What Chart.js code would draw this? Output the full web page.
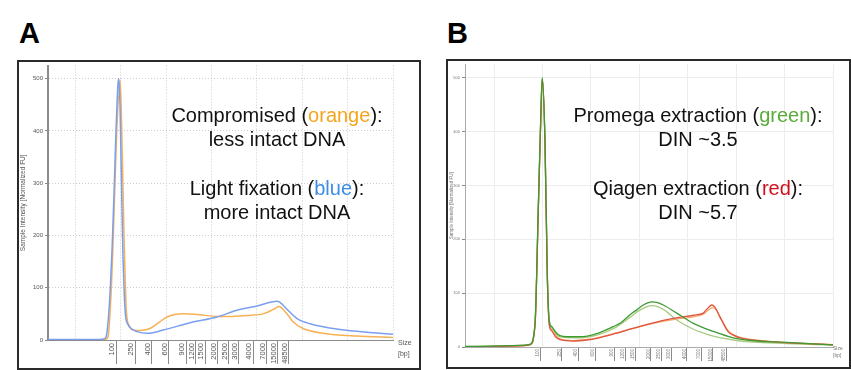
<!DOCTYPE html>
<html>
<head>
<meta charset="utf-8">
<script src="https://cdn.jsdelivr.net/npm/chart.js@4.4.1/dist/chart.umd.min.js"></script>
<style>
body { margin: 0; width: 851px; height: 370px; overflow: hidden; position: relative; background: #fff; font-family: "Liberation Sans", Arial, sans-serif; }
canvas { position: absolute; }
.box { position: absolute; border: 2px solid #2a2a2a; box-sizing: border-box; }
.tag { position: absolute; font-weight: bold; font-size: 29px; line-height: 29px; color: #000; }
.note { position: absolute; text-align: center; font-size: 20px; line-height: 24px; color: #111; white-space: nowrap; }
.unit { position: absolute; color: #555; white-space: nowrap; }
</style>
</head>
<body>
<div class="tag" style="left:19px;top:19px">A</div>
<div class="tag" style="left:447px;top:19px">B</div>

<canvas id="chartA" width="404" height="310" style="left:17px;top:60px"></canvas>
<canvas id="chartB" width="404" height="309" style="left:447px;top:60px"></canvas>
<div class="box" style="left:17px;top:60px;width:404px;height:310px"></div>
<div class="box" style="left:446px;top:59px;width:405px;height:310px"></div>

<div class="note" style="left:127px;top:103px;width:300px">Compromised (<span style="color:#f5a51c">orange</span>):<br>less intact DNA</div>
<div class="note" style="left:127px;top:176px;width:300px">Light fixation (<span style="color:#3b8de6">blue</span>):<br>more intact DNA</div>
<div class="note" style="left:548px;top:103px;width:300px">Promega extraction (<span style="color:#5aab3a">green</span>):<br>DIN ~3.5</div>
<div class="note" style="left:548px;top:176px;width:300px">Qiagen extraction (<span style="color:#d0101a">red</span>):<br>DIN ~5.7</div>

<div class="unit" style="left:398px;top:339px;font-size:7px">Size</div>
<div class="unit" style="left:398px;top:350px;font-size:7px">[bp]</div>
<div class="unit" style="left:833px;top:345px;font-size:5px;color:#777">Size</div>
<div class="unit" style="left:833px;top:352px;font-size:5px;color:#777">[bp]</div>

<script>
// migration time (s) vs fluorescence
const gridTimes = [20, 25, 30, 35, 40, 45, 50, 55];
const yTicks = [0, 100, 200, 300, 400, 500];
const bpLabels = ['100', '250', '400', '600', '900', '1200', '1500', '2000', '2500', '3000', '4000', '7000', '15000', '48500'];
const bpTimesA = [24.5, 26.6, 28.45, 30.3, 32.2, 33.3, 34.3, 35.7, 36.9, 38.0, 39.6, 41.1, 42.3, 43.5];
const bpTimesB = [24.8, 27.0, 28.7, 30.5, 32.4, 33.6, 34.6, 36.2, 37.3, 38.3, 39.9, 41.4, 42.6, 44.0];

// panel A
const lightFixation = [[17, 1], [20.5, 1], [22.7, 1], [23.28, 3], [23.5, 15], [23.83, 88], [24.05, 170], [24.27, 280],
  [24.38, 340], [24.49, 400], [24.6, 450], [24.71, 490], [24.79, 500], [24.93, 450], [25.04, 350], [25.15, 250],
  [25.26, 160], [25.37, 100], [25.48, 60], [25.59, 40], [25.81, 30], [26.03, 24], [26.8, 16], [28.01, 13],
  [29.67, 19], [32.64, 33], [35.61, 44], [37.82, 57], [40.02, 65], [42.22, 74], [42.55, 72], [43.43, 57],
  [44.43, 41], [45.86, 31], [49.16, 20], [52.8, 14], [55, 11]];
const compromised = [[17, 0.5], [22.7, 0.5], [23.28, 1], [23.61, 6], [23.83, 50], [24.05, 130], [24.27, 240],
  [24.49, 360], [24.71, 450], [24.82, 470], [24.93, 498], [25.04, 460], [25.15, 380], [25.26, 290], [25.37, 200],
  [25.48, 130], [25.59, 70], [25.7, 42], [25.92, 28], [26.36, 19], [27.13, 18], [28.23, 22], [29.34, 35],
  [30.11, 44], [31.87, 50], [33.41, 49], [35.61, 45], [37.05, 45], [38.92, 47], [40.68, 50], [41.78, 58],
  [42.44, 64], [43.32, 50], [43.99, 35], [45.09, 22], [47.29, 13], [51.03, 7.5], [55, 5]];

// panel B
const promegaA = [[17, 1], [20.61, 2], [22.68, 3], [23.71, 5], [24.23, 44], [24.57, 259], [24.85, 443], [24.98, 500],
  [25.26, 382], [25.5, 136], [25.71, 48], [25.95, 38], [26.4, 27], [26.81, 21], [27.5, 19], [28.88, 19], [30.6, 25],
  [32.31, 38], [33.01, 44], [34.04, 60], [34.73, 69], [35.5, 79], [36.28, 84], [36.8, 83], [37.48, 78], [38.86, 63],
  [40.58, 44], [42.64, 29], [44.71, 17], [46.77, 11.6], [50.22, 8.5], [55, 4]];
const promegaB = [[17, 1], [20.61, 2], [22.68, 3], [23.71, 5], [24.23, 44], [24.57, 259], [24.85, 443], [24.98, 500],
  [25.26, 382], [25.5, 134], [25.71, 44], [25.95, 36], [26.4, 25], [26.81, 19], [28.88, 17], [30.6, 22], [32.31, 34],
  [34.04, 55], [35.0, 68], [35.93, 76], [36.4, 77], [37.48, 70], [38.86, 50], [40.58, 33], [41.61, 26], [42.64, 20],
  [44.71, 13], [46.77, 9], [50.22, 6.5], [55, 3.5]];
const qiagenA = [[17, 0], [20.61, 1], [22.68, 2], [23.71, 4], [24.23, 40], [24.57, 255], [24.85, 440], [24.98, 498],
  [25.26, 380], [25.5, 130], [25.71, 40], [25.95, 30], [26.4, 18], [26.81, 13.5], [28.18, 11], [29.57, 13], [30.6, 16],
  [32.31, 24], [33.01, 27], [34.04, 33], [36.44, 45], [38.51, 53], [40.58, 59], [41.61, 63], [41.96, 70], [42.48, 78],
  [42.8, 74], [43.33, 56], [44.19, 28], [44.71, 22], [45.4, 17], [48.5, 10], [55, 4]];
const qiagenB = [[17, 0], [20.61, 1], [22.68, 2], [23.71, 4], [24.23, 40], [24.57, 255], [24.85, 440], [24.98, 498],
  [25.26, 380], [25.5, 130], [25.71, 42], [25.95, 33], [26.4, 21], [26.81, 15], [28.18, 12], [29.57, 14], [30.6, 17],
  [32.31, 25], [34.04, 33], [36.44, 44], [38.51, 51], [40.58, 56], [41.61, 61], [42.1, 68], [42.55, 73], [42.9, 70],
  [43.33, 55], [44.19, 30], [44.71, 23], [45.4, 18], [48.5, 10.5], [55, 4.5]];

function panelChart(id, series, bpTimes, look) {
  const family = '"Liberation Sans", Arial, sans-serif';
  return new Chart(document.getElementById(id), {
    type: 'line',
    data: {
      datasets: series.map(s => ({
        data: s.points.map(p => ({ x: p[0], y: p[1] })),
        borderColor: s.color,
        borderWidth: look.lineWidth,
        pointRadius: 0,
        fill: false,
        cubicInterpolationMode: 'monotone'
      }))
    },
    options: {
      responsive: false,
      animation: false,
      devicePixelRatio: 1,
      layout: { padding: look.padding },
      plugins: { legend: { display: false }, tooltip: { enabled: false } },
      scales: {
        x: {
          type: 'linear', min: 17, max: 55, weight: 0,
          afterBuildTicks: s => { s.ticks = gridTimes.map(v => ({ value: v })); },
          afterFit: s => { s.height = 0; },
          ticks: { display: false },
          grid: { color: look.gridColor, drawTicks: false },
          border: { display: false, dash: look.dash }
        },
        xbp: {
          type: 'linear', position: 'bottom', min: 17, max: 55, weight: 1,
          afterBuildTicks: s => { s.ticks = bpTimes.map(v => ({ value: v })); },
          afterFit: s => { s.height = look.bpHeight; },
          grid: { drawOnChartArea: false, tickLength: look.tickLen, color: '#8a8a8a' },
          border: { display: true, color: look.axisColor, width: 1 },
          ticks: {
            autoSkip: false, minRotation: 90, maxRotation: 90,
            padding: look.labPad, labelOffset: look.labOff,
            color: look.textColor, font: { size: look.bpFont, family: family },
            callback: (v, i) => bpLabels[i]
          }
        },
        y: {
          min: 0, max: 525,
          afterBuildTicks: s => { s.ticks = yTicks.map(v => ({ value: v })); },
          afterFit: s => { s.width = look.yWidth; },
          grid: { color: look.gridColor, tickLength: 3, tickColor: '#888' },
          border: { color: look.axisColor, width: look.axisWidth, dash: look.dash },
          ticks: { padding: 2, color: look.textColor, font: { size: look.yFont, family: family } },
          title: {
            display: true, text: 'Sample Intensity [Normalized FU]',
            color: look.textColor, font: { size: look.titleFont, family: family }, padding: 2
          }
        }
      }
    }
  });
}

panelChart('chartA', [
  { points: lightFixation, color: '#7b9ff0' },
  { points: compromised, color: '#f7b155' }
], bpTimesA, {
  padding: { left: 0, top: 2, right: 28, bottom: 0 },
  yWidth: 31, bpHeight: 30, tickLen: 24, labPad: -21, labOff: -4,
  bpFont: 7.5, yFont: 6, titleFont: 6.5, lineWidth: 1.5,
  gridColor: '#cccccc', dash: [1, 2], axisColor: '#8c8c8c', axisWidth: 2, textColor: '#555'
});

panelChart('chartB', [
  { points: promegaA, color: '#3e9b33' },
  { points: qiagenA, color: '#e0553f' },
  { points: promegaB, color: '#a8ca7e' },
  { points: qiagenB, color: '#f4a86e' }
], bpTimesB, {
  padding: { left: 0, top: 2, right: 18, bottom: 0 },
  yWidth: 18, bpHeight: 22, tickLen: 14, labPad: -12, labOff: -2.5,
  bpFont: 4.5, yFont: 4, titleFont: 4.5, lineWidth: 1.3,
  gridColor: '#ececec', dash: [], axisColor: '#aaaaaa', axisWidth: 1, textColor: '#777'
});
</script>
</body>
</html>
